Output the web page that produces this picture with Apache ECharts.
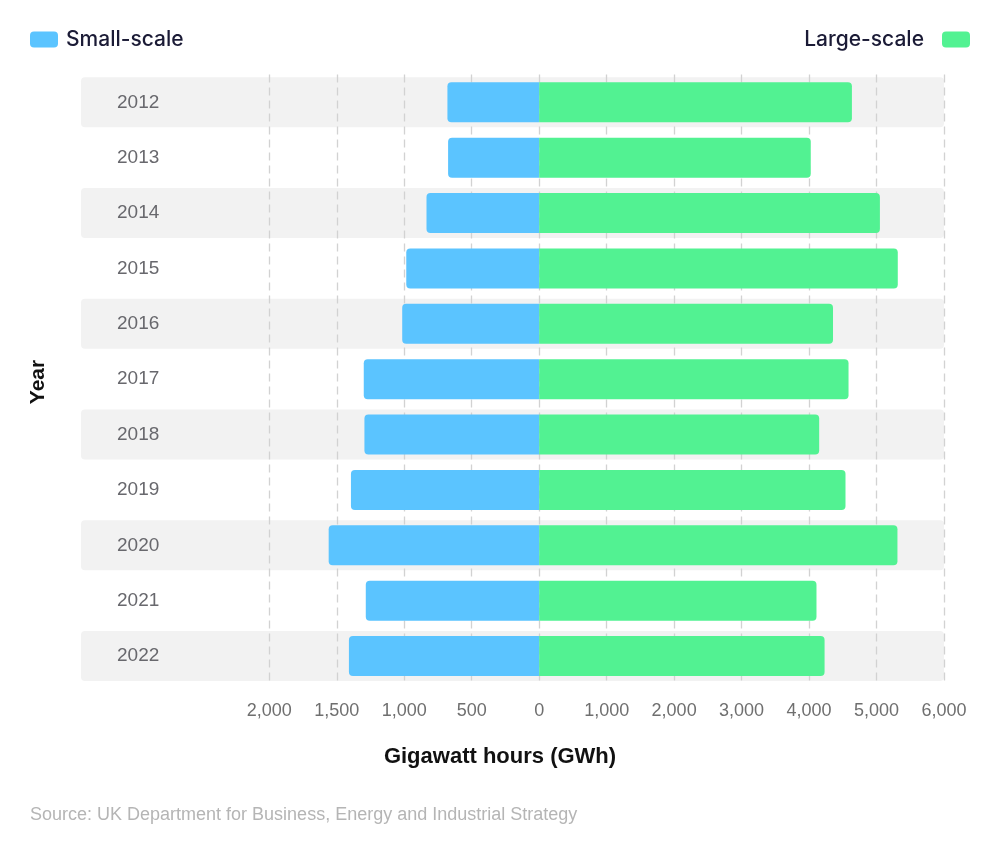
<!DOCTYPE html>
<html>
<head>
<meta charset="utf-8">
<style>
  html, body { margin: 0; padding: 0; background: #ffffff; }
  #chart { width: 1000px; height: 850px; }
</style>
<script src="https://cdn.jsdelivr.net/npm/echarts@6/dist/echarts.min.js"></script>
</head>
<body>
<div id="chart"></div>
<script>
// ---- Data ----
const years = ['2012', '2013', '2014', '2015', '2016', '2017', '2018', '2019', '2020', '2021', '2022'];
const smallScale = [680, 675, 835, 985, 1015, 1300, 1295, 1395, 1560, 1285, 1410];
const largeScale = [4635, 4025, 5050, 5315, 4355, 4585, 4150, 4540, 5310, 4110, 4230];
const bandRows = [1, null, 1, null, 1, null, 1, null, 1, null, 1];
// left side of the axis is drawn at double scale (500 per tick vs 1000 per tick)
const leftScale = 2;

const fmt = v => Math.round(v).toLocaleString('en-US');

const chart = echarts.init(document.getElementById('chart'), null, { renderer: 'canvas' });

const gridTop = 74.6, gridBottom = 166.3;

const option = {
  animation: false,
  backgroundColor: '#ffffff',
  textStyle: { fontFamily: 'Liberation Sans, Arial, sans-serif' },
  grid: [
    { left: 81, right: 56, top: gridTop, bottom: gridBottom, containLabel: false },
    { left: 269.3, right: 56, top: gridTop, bottom: gridBottom, containLabel: false }
  ],
  legend: [
    {
      data: ['Small-scale'],
      left: 25, top: 24,
      itemWidth: 28, itemHeight: 16,
      icon: 'roundRect',
      selectedMode: false,
      textStyle: { fontFamily: 'Inter', fontSize: 21, fontWeight: 500, color: '#1b1b36', padding: [0, 0, 0, 3] }
    },
    {
      data: ['Large-scale'],
      right: 25, top: 24,
      align: 'right',
      itemWidth: 28, itemHeight: 16,
      icon: 'roundRect',
      selectedMode: false,
      textStyle: { fontFamily: 'Inter', fontSize: 21, fontWeight: 500, color: '#1b1b36', padding: [0, 13, 0, 0] }
    }
  ],
  xAxis: [
    { gridIndex: 0, type: 'value', min: 0, max: 1, show: false },
    {
      gridIndex: 1, type: 'value', min: -4000, max: 6000, interval: 1000, z: 1,
      axisLine: { show: false }, axisTick: { show: false },
      splitLine: { show: true, lineStyle: { color: '#d2d2d2', width: 1.3, type: [8, 5] } },
      axisLabel: {
        margin: 18, fontSize: 18, color: '#6f6f6f',
        formatter: v => v < 0 ? fmt(-v / leftScale) : fmt(v)
      }
    }
  ],
  yAxis: [
    {
      gridIndex: 0, type: 'category', data: years, inverse: true,
      axisLine: { show: false }, axisTick: { show: false }, splitLine: { show: false },
      axisLabel: { inside: true, margin: 36, fontSize: 19, color: '#68686d' },
      z: 4
    },
    {
      gridIndex: 1, type: 'category', data: years, inverse: true,
      axisLine: { show: false }, axisTick: { show: false }, splitLine: { show: false },
      axisLabel: { show: false }
    }
  ],
  series: [
    {
      name: 'band', type: 'bar', xAxisIndex: 0, yAxisIndex: 0,
      data: bandRows, barWidth: 50, z: 0, silent: true,
      itemStyle: { color: '#f2f2f2', borderRadius: 4 }
    },
    {
      name: 'Small-scale', type: 'bar', xAxisIndex: 1, yAxisIndex: 1, stack: 'total',
      data: smallScale.map(v => -v * leftScale), barWidth: 40, zlevel: 1,
      itemStyle: { color: '#5bc4ff', borderRadius: [4, 0, 0, 4] }
    },
    {
      name: 'Large-scale', type: 'bar', xAxisIndex: 1, yAxisIndex: 1, stack: 'total',
      data: largeScale, barWidth: 40, zlevel: 1,
      itemStyle: { color: '#52f292', borderRadius: [0, 4, 4, 0] }
    }
  ],
  graphic: [
    {
      type: 'text', left: 'center', top: 746, z: 10,
      style: { text: 'Gigawatt hours (GWh)', font: 'bold 22px "Liberation Sans", Arial, sans-serif', fill: '#111111' }
    },
    {
      type: 'text', x: 38, y: 382, rotation: Math.PI / 2, z: 10,
      style: { text: 'Year', font: 'bold 21px "Liberation Sans", Arial, sans-serif', fill: '#111111', textAlign: 'center', textVerticalAlign: 'middle' }
    },
    {
      type: 'text', left: 30, top: 806, z: 10,
      style: { text: 'Source: UK Department for Business, Energy and Industrial Strategy', font: '18px "Liberation Sans", Arial, sans-serif', fill: '#b5b5b5' }
    }
  ]
};

chart.setOption(option);
</script>
</body>
</html>
